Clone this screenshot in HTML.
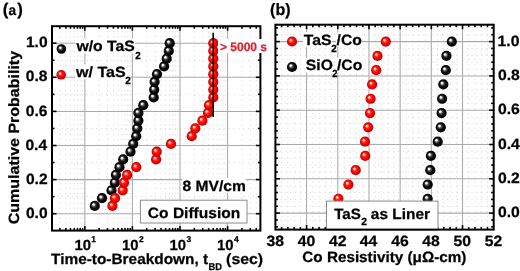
<!DOCTYPE html>
<html><head><meta charset="utf-8"><style>
html,body{margin:0;padding:0;background:#fff;}
body{width:520px;height:271px;overflow:hidden;}
svg{display:block;}
text{font-family:'Liberation Sans', Arial, sans-serif;stroke:currentColor;stroke-width:0.25px;paint-order:stroke;text-rendering:geometricPrecision;}
</style></head><body>
<svg width="520" height="271" viewBox="0 0 520 271">
<rect width="520" height="271" fill="#fff"/>
<defs>
<radialGradient id="gk" cx="0.5" cy="0.5" r="0.5" fx="0.34" fy="0.33"><stop offset="0" stop-color="#ffffff"/><stop offset="0.16" stop-color="#f2f2f2"/><stop offset="0.36" stop-color="#505050"/><stop offset="0.6" stop-color="#0c0c0c"/><stop offset="1" stop-color="#000"/></radialGradient>
<radialGradient id="gr" cx="0.5" cy="0.5" r="0.5" fx="0.34" fy="0.33"><stop offset="0" stop-color="#fff4f0"/><stop offset="0.16" stop-color="#ffc8bc"/><stop offset="0.38" stop-color="#ff2418"/><stop offset="0.72" stop-color="#f20000"/><stop offset="1" stop-color="#b80000"/></radialGradient>
<clipPath id="ca"><rect x="52.0" y="26.2" width="208.4" height="204.4"/></clipPath>
<clipPath id="cb"><rect x="275.4" y="24.7" width="218.3" height="204.9"/></clipPath>
</defs>
<g clip-path="url(#ca)">
<line x1="59.91" y1="26.2" x2="59.91" y2="230.6" stroke="#dedede" stroke-width="1" stroke-dasharray="1.3 3.6"/>
<line x1="65.86" y1="26.2" x2="65.86" y2="230.6" stroke="#dedede" stroke-width="1" stroke-dasharray="1.3 3.6"/>
<line x1="70.47" y1="26.2" x2="70.47" y2="230.6" stroke="#dedede" stroke-width="1" stroke-dasharray="1.3 3.6"/>
<line x1="74.24" y1="26.2" x2="74.24" y2="230.6" stroke="#dedede" stroke-width="1" stroke-dasharray="1.3 3.6"/>
<line x1="77.43" y1="26.2" x2="77.43" y2="230.6" stroke="#dedede" stroke-width="1" stroke-dasharray="1.3 3.6"/>
<line x1="80.19" y1="26.2" x2="80.19" y2="230.6" stroke="#dedede" stroke-width="1" stroke-dasharray="1.3 3.6"/>
<line x1="82.62" y1="26.2" x2="82.62" y2="230.6" stroke="#dedede" stroke-width="1" stroke-dasharray="1.3 3.6"/>
<line x1="99.13" y1="26.2" x2="99.13" y2="230.6" stroke="#dedede" stroke-width="1" stroke-dasharray="1.3 3.6"/>
<line x1="107.51" y1="26.2" x2="107.51" y2="230.6" stroke="#dedede" stroke-width="1" stroke-dasharray="1.3 3.6"/>
<line x1="113.46" y1="26.2" x2="113.46" y2="230.6" stroke="#dedede" stroke-width="1" stroke-dasharray="1.3 3.6"/>
<line x1="118.07" y1="26.2" x2="118.07" y2="230.6" stroke="#dedede" stroke-width="1" stroke-dasharray="1.3 3.6"/>
<line x1="121.84" y1="26.2" x2="121.84" y2="230.6" stroke="#dedede" stroke-width="1" stroke-dasharray="1.3 3.6"/>
<line x1="125.03" y1="26.2" x2="125.03" y2="230.6" stroke="#dedede" stroke-width="1" stroke-dasharray="1.3 3.6"/>
<line x1="127.79" y1="26.2" x2="127.79" y2="230.6" stroke="#dedede" stroke-width="1" stroke-dasharray="1.3 3.6"/>
<line x1="130.22" y1="26.2" x2="130.22" y2="230.6" stroke="#dedede" stroke-width="1" stroke-dasharray="1.3 3.6"/>
<line x1="146.73" y1="26.2" x2="146.73" y2="230.6" stroke="#dedede" stroke-width="1" stroke-dasharray="1.3 3.6"/>
<line x1="155.11" y1="26.2" x2="155.11" y2="230.6" stroke="#dedede" stroke-width="1" stroke-dasharray="1.3 3.6"/>
<line x1="161.06" y1="26.2" x2="161.06" y2="230.6" stroke="#dedede" stroke-width="1" stroke-dasharray="1.3 3.6"/>
<line x1="165.67" y1="26.2" x2="165.67" y2="230.6" stroke="#dedede" stroke-width="1" stroke-dasharray="1.3 3.6"/>
<line x1="169.44" y1="26.2" x2="169.44" y2="230.6" stroke="#dedede" stroke-width="1" stroke-dasharray="1.3 3.6"/>
<line x1="172.63" y1="26.2" x2="172.63" y2="230.6" stroke="#dedede" stroke-width="1" stroke-dasharray="1.3 3.6"/>
<line x1="175.39" y1="26.2" x2="175.39" y2="230.6" stroke="#dedede" stroke-width="1" stroke-dasharray="1.3 3.6"/>
<line x1="177.82" y1="26.2" x2="177.82" y2="230.6" stroke="#dedede" stroke-width="1" stroke-dasharray="1.3 3.6"/>
<line x1="194.33" y1="26.2" x2="194.33" y2="230.6" stroke="#dedede" stroke-width="1" stroke-dasharray="1.3 3.6"/>
<line x1="202.71" y1="26.2" x2="202.71" y2="230.6" stroke="#dedede" stroke-width="1" stroke-dasharray="1.3 3.6"/>
<line x1="208.66" y1="26.2" x2="208.66" y2="230.6" stroke="#dedede" stroke-width="1" stroke-dasharray="1.3 3.6"/>
<line x1="213.27" y1="26.2" x2="213.27" y2="230.6" stroke="#dedede" stroke-width="1" stroke-dasharray="1.3 3.6"/>
<line x1="217.04" y1="26.2" x2="217.04" y2="230.6" stroke="#dedede" stroke-width="1" stroke-dasharray="1.3 3.6"/>
<line x1="220.23" y1="26.2" x2="220.23" y2="230.6" stroke="#dedede" stroke-width="1" stroke-dasharray="1.3 3.6"/>
<line x1="222.99" y1="26.2" x2="222.99" y2="230.6" stroke="#dedede" stroke-width="1" stroke-dasharray="1.3 3.6"/>
<line x1="225.42" y1="26.2" x2="225.42" y2="230.6" stroke="#dedede" stroke-width="1" stroke-dasharray="1.3 3.6"/>
<line x1="241.93" y1="26.2" x2="241.93" y2="230.6" stroke="#dedede" stroke-width="1" stroke-dasharray="1.3 3.6"/>
<line x1="250.31" y1="26.2" x2="250.31" y2="230.6" stroke="#dedede" stroke-width="1" stroke-dasharray="1.3 3.6"/>
<line x1="256.26" y1="26.2" x2="256.26" y2="230.6" stroke="#dedede" stroke-width="1" stroke-dasharray="1.3 3.6"/>
<line x1="52.0" y1="196.65" x2="260.4" y2="196.65" stroke="#dedede" stroke-width="1" stroke-dasharray="1.3 3.6"/>
<line x1="52.0" y1="162.55" x2="260.4" y2="162.55" stroke="#dedede" stroke-width="1" stroke-dasharray="1.3 3.6"/>
<line x1="52.0" y1="128.45" x2="260.4" y2="128.45" stroke="#dedede" stroke-width="1" stroke-dasharray="1.3 3.6"/>
<line x1="52.0" y1="94.35" x2="260.4" y2="94.35" stroke="#dedede" stroke-width="1" stroke-dasharray="1.3 3.6"/>
<line x1="52.0" y1="60.25" x2="260.4" y2="60.25" stroke="#dedede" stroke-width="1" stroke-dasharray="1.3 3.6"/>
<line x1="84.80" y1="26.2" x2="84.80" y2="230.6" stroke="#aaaaaa" stroke-width="1.05"/>
<line x1="132.40" y1="26.2" x2="132.40" y2="230.6" stroke="#aaaaaa" stroke-width="1.05"/>
<line x1="180.00" y1="26.2" x2="180.00" y2="230.6" stroke="#aaaaaa" stroke-width="1.05"/>
<line x1="227.60" y1="26.2" x2="227.60" y2="230.6" stroke="#aaaaaa" stroke-width="1.05"/>
<line x1="52.0" y1="213.70" x2="260.4" y2="213.70" stroke="#aaaaaa" stroke-width="1.05"/>
<line x1="52.0" y1="179.60" x2="260.4" y2="179.60" stroke="#aaaaaa" stroke-width="1.05"/>
<line x1="52.0" y1="145.50" x2="260.4" y2="145.50" stroke="#aaaaaa" stroke-width="1.05"/>
<line x1="52.0" y1="111.40" x2="260.4" y2="111.40" stroke="#aaaaaa" stroke-width="1.05"/>
<line x1="52.0" y1="77.30" x2="260.4" y2="77.30" stroke="#aaaaaa" stroke-width="1.05"/>
<line x1="52.0" y1="43.20" x2="260.4" y2="43.20" stroke="#aaaaaa" stroke-width="1.05"/>
</g>
<g clip-path="url(#cb)">
<line x1="281.64" y1="24.7" x2="281.64" y2="229.6" stroke="#dedede" stroke-width="1" stroke-dasharray="1.3 3.6"/>
<line x1="287.87" y1="24.7" x2="287.87" y2="229.6" stroke="#dedede" stroke-width="1" stroke-dasharray="1.3 3.6"/>
<line x1="294.11" y1="24.7" x2="294.11" y2="229.6" stroke="#dedede" stroke-width="1" stroke-dasharray="1.3 3.6"/>
<line x1="300.35" y1="24.7" x2="300.35" y2="229.6" stroke="#dedede" stroke-width="1" stroke-dasharray="1.3 3.6"/>
<line x1="312.82" y1="24.7" x2="312.82" y2="229.6" stroke="#dedede" stroke-width="1" stroke-dasharray="1.3 3.6"/>
<line x1="319.06" y1="24.7" x2="319.06" y2="229.6" stroke="#dedede" stroke-width="1" stroke-dasharray="1.3 3.6"/>
<line x1="325.30" y1="24.7" x2="325.30" y2="229.6" stroke="#dedede" stroke-width="1" stroke-dasharray="1.3 3.6"/>
<line x1="331.53" y1="24.7" x2="331.53" y2="229.6" stroke="#dedede" stroke-width="1" stroke-dasharray="1.3 3.6"/>
<line x1="344.01" y1="24.7" x2="344.01" y2="229.6" stroke="#dedede" stroke-width="1" stroke-dasharray="1.3 3.6"/>
<line x1="350.25" y1="24.7" x2="350.25" y2="229.6" stroke="#dedede" stroke-width="1" stroke-dasharray="1.3 3.6"/>
<line x1="356.48" y1="24.7" x2="356.48" y2="229.6" stroke="#dedede" stroke-width="1" stroke-dasharray="1.3 3.6"/>
<line x1="362.72" y1="24.7" x2="362.72" y2="229.6" stroke="#dedede" stroke-width="1" stroke-dasharray="1.3 3.6"/>
<line x1="375.20" y1="24.7" x2="375.20" y2="229.6" stroke="#dedede" stroke-width="1" stroke-dasharray="1.3 3.6"/>
<line x1="381.43" y1="24.7" x2="381.43" y2="229.6" stroke="#dedede" stroke-width="1" stroke-dasharray="1.3 3.6"/>
<line x1="387.67" y1="24.7" x2="387.67" y2="229.6" stroke="#dedede" stroke-width="1" stroke-dasharray="1.3 3.6"/>
<line x1="393.91" y1="24.7" x2="393.91" y2="229.6" stroke="#dedede" stroke-width="1" stroke-dasharray="1.3 3.6"/>
<line x1="406.38" y1="24.7" x2="406.38" y2="229.6" stroke="#dedede" stroke-width="1" stroke-dasharray="1.3 3.6"/>
<line x1="412.62" y1="24.7" x2="412.62" y2="229.6" stroke="#dedede" stroke-width="1" stroke-dasharray="1.3 3.6"/>
<line x1="418.86" y1="24.7" x2="418.86" y2="229.6" stroke="#dedede" stroke-width="1" stroke-dasharray="1.3 3.6"/>
<line x1="425.09" y1="24.7" x2="425.09" y2="229.6" stroke="#dedede" stroke-width="1" stroke-dasharray="1.3 3.6"/>
<line x1="437.57" y1="24.7" x2="437.57" y2="229.6" stroke="#dedede" stroke-width="1" stroke-dasharray="1.3 3.6"/>
<line x1="443.80" y1="24.7" x2="443.80" y2="229.6" stroke="#dedede" stroke-width="1" stroke-dasharray="1.3 3.6"/>
<line x1="450.04" y1="24.7" x2="450.04" y2="229.6" stroke="#dedede" stroke-width="1" stroke-dasharray="1.3 3.6"/>
<line x1="456.28" y1="24.7" x2="456.28" y2="229.6" stroke="#dedede" stroke-width="1" stroke-dasharray="1.3 3.6"/>
<line x1="468.75" y1="24.7" x2="468.75" y2="229.6" stroke="#dedede" stroke-width="1" stroke-dasharray="1.3 3.6"/>
<line x1="474.99" y1="24.7" x2="474.99" y2="229.6" stroke="#dedede" stroke-width="1" stroke-dasharray="1.3 3.6"/>
<line x1="481.23" y1="24.7" x2="481.23" y2="229.6" stroke="#dedede" stroke-width="1" stroke-dasharray="1.3 3.6"/>
<line x1="487.46" y1="24.7" x2="487.46" y2="229.6" stroke="#dedede" stroke-width="1" stroke-dasharray="1.3 3.6"/>
<line x1="275.4" y1="226.82" x2="493.7" y2="226.82" stroke="#dedede" stroke-width="1" stroke-dasharray="1.3 3.6"/>
<line x1="275.4" y1="219.96" x2="493.7" y2="219.96" stroke="#dedede" stroke-width="1" stroke-dasharray="1.3 3.6"/>
<line x1="275.4" y1="206.24" x2="493.7" y2="206.24" stroke="#dedede" stroke-width="1" stroke-dasharray="1.3 3.6"/>
<line x1="275.4" y1="199.38" x2="493.7" y2="199.38" stroke="#dedede" stroke-width="1" stroke-dasharray="1.3 3.6"/>
<line x1="275.4" y1="192.52" x2="493.7" y2="192.52" stroke="#dedede" stroke-width="1" stroke-dasharray="1.3 3.6"/>
<line x1="275.4" y1="185.66" x2="493.7" y2="185.66" stroke="#dedede" stroke-width="1" stroke-dasharray="1.3 3.6"/>
<line x1="275.4" y1="171.94" x2="493.7" y2="171.94" stroke="#dedede" stroke-width="1" stroke-dasharray="1.3 3.6"/>
<line x1="275.4" y1="165.08" x2="493.7" y2="165.08" stroke="#dedede" stroke-width="1" stroke-dasharray="1.3 3.6"/>
<line x1="275.4" y1="158.22" x2="493.7" y2="158.22" stroke="#dedede" stroke-width="1" stroke-dasharray="1.3 3.6"/>
<line x1="275.4" y1="151.36" x2="493.7" y2="151.36" stroke="#dedede" stroke-width="1" stroke-dasharray="1.3 3.6"/>
<line x1="275.4" y1="137.64" x2="493.7" y2="137.64" stroke="#dedede" stroke-width="1" stroke-dasharray="1.3 3.6"/>
<line x1="275.4" y1="130.78" x2="493.7" y2="130.78" stroke="#dedede" stroke-width="1" stroke-dasharray="1.3 3.6"/>
<line x1="275.4" y1="123.92" x2="493.7" y2="123.92" stroke="#dedede" stroke-width="1" stroke-dasharray="1.3 3.6"/>
<line x1="275.4" y1="117.06" x2="493.7" y2="117.06" stroke="#dedede" stroke-width="1" stroke-dasharray="1.3 3.6"/>
<line x1="275.4" y1="103.34" x2="493.7" y2="103.34" stroke="#dedede" stroke-width="1" stroke-dasharray="1.3 3.6"/>
<line x1="275.4" y1="96.48" x2="493.7" y2="96.48" stroke="#dedede" stroke-width="1" stroke-dasharray="1.3 3.6"/>
<line x1="275.4" y1="89.62" x2="493.7" y2="89.62" stroke="#dedede" stroke-width="1" stroke-dasharray="1.3 3.6"/>
<line x1="275.4" y1="82.76" x2="493.7" y2="82.76" stroke="#dedede" stroke-width="1" stroke-dasharray="1.3 3.6"/>
<line x1="275.4" y1="69.04" x2="493.7" y2="69.04" stroke="#dedede" stroke-width="1" stroke-dasharray="1.3 3.6"/>
<line x1="275.4" y1="62.18" x2="493.7" y2="62.18" stroke="#dedede" stroke-width="1" stroke-dasharray="1.3 3.6"/>
<line x1="275.4" y1="55.32" x2="493.7" y2="55.32" stroke="#dedede" stroke-width="1" stroke-dasharray="1.3 3.6"/>
<line x1="275.4" y1="48.46" x2="493.7" y2="48.46" stroke="#dedede" stroke-width="1" stroke-dasharray="1.3 3.6"/>
<line x1="275.4" y1="34.74" x2="493.7" y2="34.74" stroke="#dedede" stroke-width="1" stroke-dasharray="1.3 3.6"/>
<line x1="275.4" y1="27.88" x2="493.7" y2="27.88" stroke="#dedede" stroke-width="1" stroke-dasharray="1.3 3.6"/>
<line x1="306.59" y1="24.7" x2="306.59" y2="229.6" stroke="#aaaaaa" stroke-width="1.05"/>
<line x1="337.77" y1="24.7" x2="337.77" y2="229.6" stroke="#aaaaaa" stroke-width="1.05"/>
<line x1="368.96" y1="24.7" x2="368.96" y2="229.6" stroke="#aaaaaa" stroke-width="1.05"/>
<line x1="400.14" y1="24.7" x2="400.14" y2="229.6" stroke="#aaaaaa" stroke-width="1.05"/>
<line x1="431.33" y1="24.7" x2="431.33" y2="229.6" stroke="#aaaaaa" stroke-width="1.05"/>
<line x1="462.52" y1="24.7" x2="462.52" y2="229.6" stroke="#aaaaaa" stroke-width="1.05"/>
<line x1="275.4" y1="213.10" x2="493.7" y2="213.10" stroke="#aaaaaa" stroke-width="1.05"/>
<line x1="275.4" y1="178.80" x2="493.7" y2="178.80" stroke="#aaaaaa" stroke-width="1.05"/>
<line x1="275.4" y1="144.50" x2="493.7" y2="144.50" stroke="#aaaaaa" stroke-width="1.05"/>
<line x1="275.4" y1="110.20" x2="493.7" y2="110.20" stroke="#aaaaaa" stroke-width="1.05"/>
<line x1="275.4" y1="75.90" x2="493.7" y2="75.90" stroke="#aaaaaa" stroke-width="1.05"/>
<line x1="275.4" y1="41.60" x2="493.7" y2="41.60" stroke="#aaaaaa" stroke-width="1.05"/>
</g>
<line x1="52.00" y1="213.70" x2="56.50" y2="213.70" stroke="#000" stroke-width="1.6"/>
<line x1="260.40" y1="213.70" x2="255.90" y2="213.70" stroke="#000" stroke-width="1.6"/>
<line x1="52.00" y1="196.65" x2="54.50" y2="196.65" stroke="#000" stroke-width="1.6"/>
<line x1="260.40" y1="196.65" x2="257.90" y2="196.65" stroke="#000" stroke-width="1.6"/>
<line x1="52.00" y1="179.60" x2="56.50" y2="179.60" stroke="#000" stroke-width="1.6"/>
<line x1="260.40" y1="179.60" x2="255.90" y2="179.60" stroke="#000" stroke-width="1.6"/>
<line x1="52.00" y1="162.55" x2="54.50" y2="162.55" stroke="#000" stroke-width="1.6"/>
<line x1="260.40" y1="162.55" x2="257.90" y2="162.55" stroke="#000" stroke-width="1.6"/>
<line x1="52.00" y1="145.50" x2="56.50" y2="145.50" stroke="#000" stroke-width="1.6"/>
<line x1="260.40" y1="145.50" x2="255.90" y2="145.50" stroke="#000" stroke-width="1.6"/>
<line x1="52.00" y1="128.45" x2="54.50" y2="128.45" stroke="#000" stroke-width="1.6"/>
<line x1="260.40" y1="128.45" x2="257.90" y2="128.45" stroke="#000" stroke-width="1.6"/>
<line x1="52.00" y1="111.40" x2="56.50" y2="111.40" stroke="#000" stroke-width="1.6"/>
<line x1="260.40" y1="111.40" x2="255.90" y2="111.40" stroke="#000" stroke-width="1.6"/>
<line x1="52.00" y1="94.35" x2="54.50" y2="94.35" stroke="#000" stroke-width="1.6"/>
<line x1="260.40" y1="94.35" x2="257.90" y2="94.35" stroke="#000" stroke-width="1.6"/>
<line x1="52.00" y1="77.30" x2="56.50" y2="77.30" stroke="#000" stroke-width="1.6"/>
<line x1="260.40" y1="77.30" x2="255.90" y2="77.30" stroke="#000" stroke-width="1.6"/>
<line x1="52.00" y1="60.25" x2="54.50" y2="60.25" stroke="#000" stroke-width="1.6"/>
<line x1="260.40" y1="60.25" x2="257.90" y2="60.25" stroke="#000" stroke-width="1.6"/>
<line x1="52.00" y1="43.20" x2="56.50" y2="43.20" stroke="#000" stroke-width="1.6"/>
<line x1="260.40" y1="43.20" x2="255.90" y2="43.20" stroke="#000" stroke-width="1.6"/>
<line x1="59.91" y1="230.60" x2="59.91" y2="228.10" stroke="#000" stroke-width="1.6"/>
<line x1="59.91" y1="26.20" x2="59.91" y2="28.70" stroke="#000" stroke-width="1.6"/>
<line x1="65.86" y1="230.60" x2="65.86" y2="228.10" stroke="#000" stroke-width="1.6"/>
<line x1="65.86" y1="26.20" x2="65.86" y2="28.70" stroke="#000" stroke-width="1.6"/>
<line x1="70.47" y1="230.60" x2="70.47" y2="228.10" stroke="#000" stroke-width="1.6"/>
<line x1="70.47" y1="26.20" x2="70.47" y2="28.70" stroke="#000" stroke-width="1.6"/>
<line x1="74.24" y1="230.60" x2="74.24" y2="228.10" stroke="#000" stroke-width="1.6"/>
<line x1="74.24" y1="26.20" x2="74.24" y2="28.70" stroke="#000" stroke-width="1.6"/>
<line x1="77.43" y1="230.60" x2="77.43" y2="228.10" stroke="#000" stroke-width="1.6"/>
<line x1="77.43" y1="26.20" x2="77.43" y2="28.70" stroke="#000" stroke-width="1.6"/>
<line x1="80.19" y1="230.60" x2="80.19" y2="228.10" stroke="#000" stroke-width="1.6"/>
<line x1="80.19" y1="26.20" x2="80.19" y2="28.70" stroke="#000" stroke-width="1.6"/>
<line x1="82.62" y1="230.60" x2="82.62" y2="228.10" stroke="#000" stroke-width="1.6"/>
<line x1="82.62" y1="26.20" x2="82.62" y2="28.70" stroke="#000" stroke-width="1.6"/>
<line x1="84.80" y1="230.60" x2="84.80" y2="226.10" stroke="#000" stroke-width="1.6"/>
<line x1="84.80" y1="26.20" x2="84.80" y2="30.70" stroke="#000" stroke-width="1.6"/>
<line x1="99.13" y1="230.60" x2="99.13" y2="228.10" stroke="#000" stroke-width="1.6"/>
<line x1="99.13" y1="26.20" x2="99.13" y2="28.70" stroke="#000" stroke-width="1.6"/>
<line x1="107.51" y1="230.60" x2="107.51" y2="228.10" stroke="#000" stroke-width="1.6"/>
<line x1="107.51" y1="26.20" x2="107.51" y2="28.70" stroke="#000" stroke-width="1.6"/>
<line x1="113.46" y1="230.60" x2="113.46" y2="228.10" stroke="#000" stroke-width="1.6"/>
<line x1="113.46" y1="26.20" x2="113.46" y2="28.70" stroke="#000" stroke-width="1.6"/>
<line x1="118.07" y1="230.60" x2="118.07" y2="228.10" stroke="#000" stroke-width="1.6"/>
<line x1="118.07" y1="26.20" x2="118.07" y2="28.70" stroke="#000" stroke-width="1.6"/>
<line x1="121.84" y1="230.60" x2="121.84" y2="228.10" stroke="#000" stroke-width="1.6"/>
<line x1="121.84" y1="26.20" x2="121.84" y2="28.70" stroke="#000" stroke-width="1.6"/>
<line x1="125.03" y1="230.60" x2="125.03" y2="228.10" stroke="#000" stroke-width="1.6"/>
<line x1="125.03" y1="26.20" x2="125.03" y2="28.70" stroke="#000" stroke-width="1.6"/>
<line x1="127.79" y1="230.60" x2="127.79" y2="228.10" stroke="#000" stroke-width="1.6"/>
<line x1="127.79" y1="26.20" x2="127.79" y2="28.70" stroke="#000" stroke-width="1.6"/>
<line x1="130.22" y1="230.60" x2="130.22" y2="228.10" stroke="#000" stroke-width="1.6"/>
<line x1="130.22" y1="26.20" x2="130.22" y2="28.70" stroke="#000" stroke-width="1.6"/>
<line x1="132.40" y1="230.60" x2="132.40" y2="226.10" stroke="#000" stroke-width="1.6"/>
<line x1="132.40" y1="26.20" x2="132.40" y2="30.70" stroke="#000" stroke-width="1.6"/>
<line x1="146.73" y1="230.60" x2="146.73" y2="228.10" stroke="#000" stroke-width="1.6"/>
<line x1="146.73" y1="26.20" x2="146.73" y2="28.70" stroke="#000" stroke-width="1.6"/>
<line x1="155.11" y1="230.60" x2="155.11" y2="228.10" stroke="#000" stroke-width="1.6"/>
<line x1="155.11" y1="26.20" x2="155.11" y2="28.70" stroke="#000" stroke-width="1.6"/>
<line x1="161.06" y1="230.60" x2="161.06" y2="228.10" stroke="#000" stroke-width="1.6"/>
<line x1="161.06" y1="26.20" x2="161.06" y2="28.70" stroke="#000" stroke-width="1.6"/>
<line x1="165.67" y1="230.60" x2="165.67" y2="228.10" stroke="#000" stroke-width="1.6"/>
<line x1="165.67" y1="26.20" x2="165.67" y2="28.70" stroke="#000" stroke-width="1.6"/>
<line x1="169.44" y1="230.60" x2="169.44" y2="228.10" stroke="#000" stroke-width="1.6"/>
<line x1="169.44" y1="26.20" x2="169.44" y2="28.70" stroke="#000" stroke-width="1.6"/>
<line x1="172.63" y1="230.60" x2="172.63" y2="228.10" stroke="#000" stroke-width="1.6"/>
<line x1="172.63" y1="26.20" x2="172.63" y2="28.70" stroke="#000" stroke-width="1.6"/>
<line x1="175.39" y1="230.60" x2="175.39" y2="228.10" stroke="#000" stroke-width="1.6"/>
<line x1="175.39" y1="26.20" x2="175.39" y2="28.70" stroke="#000" stroke-width="1.6"/>
<line x1="177.82" y1="230.60" x2="177.82" y2="228.10" stroke="#000" stroke-width="1.6"/>
<line x1="177.82" y1="26.20" x2="177.82" y2="28.70" stroke="#000" stroke-width="1.6"/>
<line x1="180.00" y1="230.60" x2="180.00" y2="226.10" stroke="#000" stroke-width="1.6"/>
<line x1="180.00" y1="26.20" x2="180.00" y2="30.70" stroke="#000" stroke-width="1.6"/>
<line x1="194.33" y1="230.60" x2="194.33" y2="228.10" stroke="#000" stroke-width="1.6"/>
<line x1="194.33" y1="26.20" x2="194.33" y2="28.70" stroke="#000" stroke-width="1.6"/>
<line x1="202.71" y1="230.60" x2="202.71" y2="228.10" stroke="#000" stroke-width="1.6"/>
<line x1="202.71" y1="26.20" x2="202.71" y2="28.70" stroke="#000" stroke-width="1.6"/>
<line x1="208.66" y1="230.60" x2="208.66" y2="228.10" stroke="#000" stroke-width="1.6"/>
<line x1="208.66" y1="26.20" x2="208.66" y2="28.70" stroke="#000" stroke-width="1.6"/>
<line x1="213.27" y1="230.60" x2="213.27" y2="228.10" stroke="#000" stroke-width="1.6"/>
<line x1="213.27" y1="26.20" x2="213.27" y2="28.70" stroke="#000" stroke-width="1.6"/>
<line x1="217.04" y1="230.60" x2="217.04" y2="228.10" stroke="#000" stroke-width="1.6"/>
<line x1="217.04" y1="26.20" x2="217.04" y2="28.70" stroke="#000" stroke-width="1.6"/>
<line x1="220.23" y1="230.60" x2="220.23" y2="228.10" stroke="#000" stroke-width="1.6"/>
<line x1="220.23" y1="26.20" x2="220.23" y2="28.70" stroke="#000" stroke-width="1.6"/>
<line x1="222.99" y1="230.60" x2="222.99" y2="228.10" stroke="#000" stroke-width="1.6"/>
<line x1="222.99" y1="26.20" x2="222.99" y2="28.70" stroke="#000" stroke-width="1.6"/>
<line x1="225.42" y1="230.60" x2="225.42" y2="228.10" stroke="#000" stroke-width="1.6"/>
<line x1="225.42" y1="26.20" x2="225.42" y2="28.70" stroke="#000" stroke-width="1.6"/>
<line x1="227.60" y1="230.60" x2="227.60" y2="226.10" stroke="#000" stroke-width="1.6"/>
<line x1="227.60" y1="26.20" x2="227.60" y2="30.70" stroke="#000" stroke-width="1.6"/>
<line x1="241.93" y1="230.60" x2="241.93" y2="228.10" stroke="#000" stroke-width="1.6"/>
<line x1="241.93" y1="26.20" x2="241.93" y2="28.70" stroke="#000" stroke-width="1.6"/>
<line x1="250.31" y1="230.60" x2="250.31" y2="228.10" stroke="#000" stroke-width="1.6"/>
<line x1="250.31" y1="26.20" x2="250.31" y2="28.70" stroke="#000" stroke-width="1.6"/>
<line x1="256.26" y1="230.60" x2="256.26" y2="228.10" stroke="#000" stroke-width="1.6"/>
<line x1="256.26" y1="26.20" x2="256.26" y2="28.70" stroke="#000" stroke-width="1.6"/>
<line x1="275.40" y1="226.82" x2="277.90" y2="226.82" stroke="#000" stroke-width="1.6"/>
<line x1="493.70" y1="226.82" x2="491.20" y2="226.82" stroke="#000" stroke-width="1.6"/>
<line x1="275.40" y1="219.96" x2="277.90" y2="219.96" stroke="#000" stroke-width="1.6"/>
<line x1="493.70" y1="219.96" x2="491.20" y2="219.96" stroke="#000" stroke-width="1.6"/>
<line x1="275.40" y1="213.10" x2="279.90" y2="213.10" stroke="#000" stroke-width="1.6"/>
<line x1="493.70" y1="213.10" x2="489.20" y2="213.10" stroke="#000" stroke-width="1.6"/>
<line x1="275.40" y1="206.24" x2="277.90" y2="206.24" stroke="#000" stroke-width="1.6"/>
<line x1="493.70" y1="206.24" x2="491.20" y2="206.24" stroke="#000" stroke-width="1.6"/>
<line x1="275.40" y1="199.38" x2="277.90" y2="199.38" stroke="#000" stroke-width="1.6"/>
<line x1="493.70" y1="199.38" x2="491.20" y2="199.38" stroke="#000" stroke-width="1.6"/>
<line x1="275.40" y1="192.52" x2="277.90" y2="192.52" stroke="#000" stroke-width="1.6"/>
<line x1="493.70" y1="192.52" x2="491.20" y2="192.52" stroke="#000" stroke-width="1.6"/>
<line x1="275.40" y1="185.66" x2="277.90" y2="185.66" stroke="#000" stroke-width="1.6"/>
<line x1="493.70" y1="185.66" x2="491.20" y2="185.66" stroke="#000" stroke-width="1.6"/>
<line x1="275.40" y1="178.80" x2="279.90" y2="178.80" stroke="#000" stroke-width="1.6"/>
<line x1="493.70" y1="178.80" x2="489.20" y2="178.80" stroke="#000" stroke-width="1.6"/>
<line x1="275.40" y1="171.94" x2="277.90" y2="171.94" stroke="#000" stroke-width="1.6"/>
<line x1="493.70" y1="171.94" x2="491.20" y2="171.94" stroke="#000" stroke-width="1.6"/>
<line x1="275.40" y1="165.08" x2="277.90" y2="165.08" stroke="#000" stroke-width="1.6"/>
<line x1="493.70" y1="165.08" x2="491.20" y2="165.08" stroke="#000" stroke-width="1.6"/>
<line x1="275.40" y1="158.22" x2="277.90" y2="158.22" stroke="#000" stroke-width="1.6"/>
<line x1="493.70" y1="158.22" x2="491.20" y2="158.22" stroke="#000" stroke-width="1.6"/>
<line x1="275.40" y1="151.36" x2="277.90" y2="151.36" stroke="#000" stroke-width="1.6"/>
<line x1="493.70" y1="151.36" x2="491.20" y2="151.36" stroke="#000" stroke-width="1.6"/>
<line x1="275.40" y1="144.50" x2="279.90" y2="144.50" stroke="#000" stroke-width="1.6"/>
<line x1="493.70" y1="144.50" x2="489.20" y2="144.50" stroke="#000" stroke-width="1.6"/>
<line x1="275.40" y1="137.64" x2="277.90" y2="137.64" stroke="#000" stroke-width="1.6"/>
<line x1="493.70" y1="137.64" x2="491.20" y2="137.64" stroke="#000" stroke-width="1.6"/>
<line x1="275.40" y1="130.78" x2="277.90" y2="130.78" stroke="#000" stroke-width="1.6"/>
<line x1="493.70" y1="130.78" x2="491.20" y2="130.78" stroke="#000" stroke-width="1.6"/>
<line x1="275.40" y1="123.92" x2="277.90" y2="123.92" stroke="#000" stroke-width="1.6"/>
<line x1="493.70" y1="123.92" x2="491.20" y2="123.92" stroke="#000" stroke-width="1.6"/>
<line x1="275.40" y1="117.06" x2="277.90" y2="117.06" stroke="#000" stroke-width="1.6"/>
<line x1="493.70" y1="117.06" x2="491.20" y2="117.06" stroke="#000" stroke-width="1.6"/>
<line x1="275.40" y1="110.20" x2="279.90" y2="110.20" stroke="#000" stroke-width="1.6"/>
<line x1="493.70" y1="110.20" x2="489.20" y2="110.20" stroke="#000" stroke-width="1.6"/>
<line x1="275.40" y1="103.34" x2="277.90" y2="103.34" stroke="#000" stroke-width="1.6"/>
<line x1="493.70" y1="103.34" x2="491.20" y2="103.34" stroke="#000" stroke-width="1.6"/>
<line x1="275.40" y1="96.48" x2="277.90" y2="96.48" stroke="#000" stroke-width="1.6"/>
<line x1="493.70" y1="96.48" x2="491.20" y2="96.48" stroke="#000" stroke-width="1.6"/>
<line x1="275.40" y1="89.62" x2="277.90" y2="89.62" stroke="#000" stroke-width="1.6"/>
<line x1="493.70" y1="89.62" x2="491.20" y2="89.62" stroke="#000" stroke-width="1.6"/>
<line x1="275.40" y1="82.76" x2="277.90" y2="82.76" stroke="#000" stroke-width="1.6"/>
<line x1="493.70" y1="82.76" x2="491.20" y2="82.76" stroke="#000" stroke-width="1.6"/>
<line x1="275.40" y1="75.90" x2="279.90" y2="75.90" stroke="#000" stroke-width="1.6"/>
<line x1="493.70" y1="75.90" x2="489.20" y2="75.90" stroke="#000" stroke-width="1.6"/>
<line x1="275.40" y1="69.04" x2="277.90" y2="69.04" stroke="#000" stroke-width="1.6"/>
<line x1="493.70" y1="69.04" x2="491.20" y2="69.04" stroke="#000" stroke-width="1.6"/>
<line x1="275.40" y1="62.18" x2="277.90" y2="62.18" stroke="#000" stroke-width="1.6"/>
<line x1="493.70" y1="62.18" x2="491.20" y2="62.18" stroke="#000" stroke-width="1.6"/>
<line x1="275.40" y1="55.32" x2="277.90" y2="55.32" stroke="#000" stroke-width="1.6"/>
<line x1="493.70" y1="55.32" x2="491.20" y2="55.32" stroke="#000" stroke-width="1.6"/>
<line x1="275.40" y1="48.46" x2="277.90" y2="48.46" stroke="#000" stroke-width="1.6"/>
<line x1="493.70" y1="48.46" x2="491.20" y2="48.46" stroke="#000" stroke-width="1.6"/>
<line x1="275.40" y1="41.60" x2="279.90" y2="41.60" stroke="#000" stroke-width="1.6"/>
<line x1="493.70" y1="41.60" x2="489.20" y2="41.60" stroke="#000" stroke-width="1.6"/>
<line x1="275.40" y1="34.74" x2="277.90" y2="34.74" stroke="#000" stroke-width="1.6"/>
<line x1="493.70" y1="34.74" x2="491.20" y2="34.74" stroke="#000" stroke-width="1.6"/>
<line x1="275.40" y1="27.88" x2="277.90" y2="27.88" stroke="#000" stroke-width="1.6"/>
<line x1="493.70" y1="27.88" x2="491.20" y2="27.88" stroke="#000" stroke-width="1.6"/>
<line x1="281.64" y1="229.60" x2="281.64" y2="227.10" stroke="#000" stroke-width="1.6"/>
<line x1="281.64" y1="24.70" x2="281.64" y2="27.20" stroke="#000" stroke-width="1.6"/>
<line x1="287.87" y1="229.60" x2="287.87" y2="227.10" stroke="#000" stroke-width="1.6"/>
<line x1="287.87" y1="24.70" x2="287.87" y2="27.20" stroke="#000" stroke-width="1.6"/>
<line x1="294.11" y1="229.60" x2="294.11" y2="227.10" stroke="#000" stroke-width="1.6"/>
<line x1="294.11" y1="24.70" x2="294.11" y2="27.20" stroke="#000" stroke-width="1.6"/>
<line x1="300.35" y1="229.60" x2="300.35" y2="227.10" stroke="#000" stroke-width="1.6"/>
<line x1="300.35" y1="24.70" x2="300.35" y2="27.20" stroke="#000" stroke-width="1.6"/>
<line x1="306.59" y1="229.60" x2="306.59" y2="225.10" stroke="#000" stroke-width="1.6"/>
<line x1="306.59" y1="24.70" x2="306.59" y2="29.20" stroke="#000" stroke-width="1.6"/>
<line x1="312.82" y1="229.60" x2="312.82" y2="227.10" stroke="#000" stroke-width="1.6"/>
<line x1="312.82" y1="24.70" x2="312.82" y2="27.20" stroke="#000" stroke-width="1.6"/>
<line x1="319.06" y1="229.60" x2="319.06" y2="227.10" stroke="#000" stroke-width="1.6"/>
<line x1="319.06" y1="24.70" x2="319.06" y2="27.20" stroke="#000" stroke-width="1.6"/>
<line x1="325.30" y1="229.60" x2="325.30" y2="227.10" stroke="#000" stroke-width="1.6"/>
<line x1="325.30" y1="24.70" x2="325.30" y2="27.20" stroke="#000" stroke-width="1.6"/>
<line x1="331.53" y1="229.60" x2="331.53" y2="227.10" stroke="#000" stroke-width="1.6"/>
<line x1="331.53" y1="24.70" x2="331.53" y2="27.20" stroke="#000" stroke-width="1.6"/>
<line x1="337.77" y1="229.60" x2="337.77" y2="225.10" stroke="#000" stroke-width="1.6"/>
<line x1="337.77" y1="24.70" x2="337.77" y2="29.20" stroke="#000" stroke-width="1.6"/>
<line x1="344.01" y1="229.60" x2="344.01" y2="227.10" stroke="#000" stroke-width="1.6"/>
<line x1="344.01" y1="24.70" x2="344.01" y2="27.20" stroke="#000" stroke-width="1.6"/>
<line x1="350.25" y1="229.60" x2="350.25" y2="227.10" stroke="#000" stroke-width="1.6"/>
<line x1="350.25" y1="24.70" x2="350.25" y2="27.20" stroke="#000" stroke-width="1.6"/>
<line x1="356.48" y1="229.60" x2="356.48" y2="227.10" stroke="#000" stroke-width="1.6"/>
<line x1="356.48" y1="24.70" x2="356.48" y2="27.20" stroke="#000" stroke-width="1.6"/>
<line x1="362.72" y1="229.60" x2="362.72" y2="227.10" stroke="#000" stroke-width="1.6"/>
<line x1="362.72" y1="24.70" x2="362.72" y2="27.20" stroke="#000" stroke-width="1.6"/>
<line x1="368.96" y1="229.60" x2="368.96" y2="225.10" stroke="#000" stroke-width="1.6"/>
<line x1="368.96" y1="24.70" x2="368.96" y2="29.20" stroke="#000" stroke-width="1.6"/>
<line x1="375.20" y1="229.60" x2="375.20" y2="227.10" stroke="#000" stroke-width="1.6"/>
<line x1="375.20" y1="24.70" x2="375.20" y2="27.20" stroke="#000" stroke-width="1.6"/>
<line x1="381.43" y1="229.60" x2="381.43" y2="227.10" stroke="#000" stroke-width="1.6"/>
<line x1="381.43" y1="24.70" x2="381.43" y2="27.20" stroke="#000" stroke-width="1.6"/>
<line x1="387.67" y1="229.60" x2="387.67" y2="227.10" stroke="#000" stroke-width="1.6"/>
<line x1="387.67" y1="24.70" x2="387.67" y2="27.20" stroke="#000" stroke-width="1.6"/>
<line x1="393.91" y1="229.60" x2="393.91" y2="227.10" stroke="#000" stroke-width="1.6"/>
<line x1="393.91" y1="24.70" x2="393.91" y2="27.20" stroke="#000" stroke-width="1.6"/>
<line x1="400.14" y1="229.60" x2="400.14" y2="225.10" stroke="#000" stroke-width="1.6"/>
<line x1="400.14" y1="24.70" x2="400.14" y2="29.20" stroke="#000" stroke-width="1.6"/>
<line x1="406.38" y1="229.60" x2="406.38" y2="227.10" stroke="#000" stroke-width="1.6"/>
<line x1="406.38" y1="24.70" x2="406.38" y2="27.20" stroke="#000" stroke-width="1.6"/>
<line x1="412.62" y1="229.60" x2="412.62" y2="227.10" stroke="#000" stroke-width="1.6"/>
<line x1="412.62" y1="24.70" x2="412.62" y2="27.20" stroke="#000" stroke-width="1.6"/>
<line x1="418.86" y1="229.60" x2="418.86" y2="227.10" stroke="#000" stroke-width="1.6"/>
<line x1="418.86" y1="24.70" x2="418.86" y2="27.20" stroke="#000" stroke-width="1.6"/>
<line x1="425.09" y1="229.60" x2="425.09" y2="227.10" stroke="#000" stroke-width="1.6"/>
<line x1="425.09" y1="24.70" x2="425.09" y2="27.20" stroke="#000" stroke-width="1.6"/>
<line x1="431.33" y1="229.60" x2="431.33" y2="225.10" stroke="#000" stroke-width="1.6"/>
<line x1="431.33" y1="24.70" x2="431.33" y2="29.20" stroke="#000" stroke-width="1.6"/>
<line x1="437.57" y1="229.60" x2="437.57" y2="227.10" stroke="#000" stroke-width="1.6"/>
<line x1="437.57" y1="24.70" x2="437.57" y2="27.20" stroke="#000" stroke-width="1.6"/>
<line x1="443.80" y1="229.60" x2="443.80" y2="227.10" stroke="#000" stroke-width="1.6"/>
<line x1="443.80" y1="24.70" x2="443.80" y2="27.20" stroke="#000" stroke-width="1.6"/>
<line x1="450.04" y1="229.60" x2="450.04" y2="227.10" stroke="#000" stroke-width="1.6"/>
<line x1="450.04" y1="24.70" x2="450.04" y2="27.20" stroke="#000" stroke-width="1.6"/>
<line x1="456.28" y1="229.60" x2="456.28" y2="227.10" stroke="#000" stroke-width="1.6"/>
<line x1="456.28" y1="24.70" x2="456.28" y2="27.20" stroke="#000" stroke-width="1.6"/>
<line x1="462.52" y1="229.60" x2="462.52" y2="225.10" stroke="#000" stroke-width="1.6"/>
<line x1="462.52" y1="24.70" x2="462.52" y2="29.20" stroke="#000" stroke-width="1.6"/>
<line x1="468.75" y1="229.60" x2="468.75" y2="227.10" stroke="#000" stroke-width="1.6"/>
<line x1="468.75" y1="24.70" x2="468.75" y2="27.20" stroke="#000" stroke-width="1.6"/>
<line x1="474.99" y1="229.60" x2="474.99" y2="227.10" stroke="#000" stroke-width="1.6"/>
<line x1="474.99" y1="24.70" x2="474.99" y2="27.20" stroke="#000" stroke-width="1.6"/>
<line x1="481.23" y1="229.60" x2="481.23" y2="227.10" stroke="#000" stroke-width="1.6"/>
<line x1="481.23" y1="24.70" x2="481.23" y2="27.20" stroke="#000" stroke-width="1.6"/>
<line x1="487.46" y1="229.60" x2="487.46" y2="227.10" stroke="#000" stroke-width="1.6"/>
<line x1="487.46" y1="24.70" x2="487.46" y2="27.20" stroke="#000" stroke-width="1.6"/>
<g clip-path="url(#ca)">
<circle cx="94.80" cy="205.95" r="5.10" fill="url(#gk)"/>
<circle cx="102.00" cy="198.20" r="5.10" fill="url(#gk)"/>
<circle cx="111.50" cy="190.45" r="5.10" fill="url(#gk)"/>
<circle cx="114.90" cy="182.70" r="5.10" fill="url(#gk)"/>
<circle cx="115.90" cy="174.95" r="5.10" fill="url(#gk)"/>
<circle cx="119.50" cy="167.20" r="5.10" fill="url(#gk)"/>
<circle cx="123.20" cy="159.45" r="5.10" fill="url(#gk)"/>
<circle cx="130.50" cy="151.70" r="5.10" fill="url(#gk)"/>
<circle cx="133.20" cy="143.95" r="5.10" fill="url(#gk)"/>
<circle cx="136.20" cy="136.20" r="5.10" fill="url(#gk)"/>
<circle cx="137.30" cy="128.45" r="5.10" fill="url(#gk)"/>
<circle cx="138.40" cy="120.70" r="5.10" fill="url(#gk)"/>
<circle cx="138.40" cy="112.95" r="5.10" fill="url(#gk)"/>
<circle cx="143.30" cy="105.20" r="5.10" fill="url(#gk)"/>
<circle cx="153.70" cy="97.45" r="5.10" fill="url(#gk)"/>
<circle cx="154.20" cy="89.70" r="5.10" fill="url(#gk)"/>
<circle cx="154.60" cy="81.95" r="5.10" fill="url(#gk)"/>
<circle cx="157.00" cy="74.20" r="5.10" fill="url(#gk)"/>
<circle cx="164.10" cy="66.45" r="5.10" fill="url(#gk)"/>
<circle cx="166.70" cy="58.70" r="5.10" fill="url(#gk)"/>
<circle cx="168.80" cy="50.95" r="5.10" fill="url(#gk)"/>
<circle cx="169.70" cy="43.20" r="5.10" fill="url(#gk)"/>
<circle cx="112.40" cy="205.95" r="5.10" fill="url(#gr)"/>
<circle cx="115.00" cy="198.20" r="5.10" fill="url(#gr)"/>
<circle cx="122.70" cy="190.45" r="5.10" fill="url(#gr)"/>
<circle cx="124.00" cy="182.70" r="5.10" fill="url(#gr)"/>
<circle cx="127.10" cy="174.95" r="5.10" fill="url(#gr)"/>
<circle cx="136.30" cy="167.20" r="5.10" fill="url(#gr)"/>
<circle cx="156.10" cy="159.45" r="5.10" fill="url(#gr)"/>
<circle cx="156.70" cy="151.70" r="5.10" fill="url(#gr)"/>
<circle cx="171.00" cy="143.95" r="5.10" fill="url(#gr)"/>
<circle cx="191.70" cy="136.20" r="5.10" fill="url(#gr)"/>
<circle cx="195.30" cy="128.45" r="5.10" fill="url(#gr)"/>
<circle cx="202.40" cy="120.70" r="5.10" fill="url(#gr)"/>
<circle cx="208.00" cy="112.95" r="5.10" fill="url(#gr)"/>
<circle cx="209.00" cy="105.20" r="5.10" fill="url(#gr)"/>
<circle cx="213.30" cy="97.45" r="5.10" fill="url(#gr)"/>
<circle cx="213.30" cy="89.70" r="5.10" fill="url(#gr)"/>
<circle cx="213.30" cy="81.95" r="5.10" fill="url(#gr)"/>
<circle cx="213.30" cy="74.20" r="5.10" fill="url(#gr)"/>
<circle cx="213.30" cy="66.45" r="5.10" fill="url(#gr)"/>
<circle cx="213.30" cy="58.70" r="5.10" fill="url(#gr)"/>
<circle cx="213.30" cy="50.95" r="5.10" fill="url(#gr)"/>
<circle cx="213.30" cy="43.20" r="5.10" fill="url(#gr)"/>
</g>
<line x1="213.2" y1="32.8" x2="213.2" y2="117" stroke="#000" stroke-width="1.6"/>
<g clip-path="url(#cb)">
<circle cx="427.70" cy="198.81" r="5.10" fill="url(#gk)"/>
<circle cx="427.70" cy="184.52" r="5.10" fill="url(#gk)"/>
<circle cx="430.30" cy="170.22" r="5.10" fill="url(#gk)"/>
<circle cx="430.90" cy="155.93" r="5.10" fill="url(#gk)"/>
<circle cx="437.70" cy="141.64" r="5.10" fill="url(#gk)"/>
<circle cx="440.80" cy="127.35" r="5.10" fill="url(#gk)"/>
<circle cx="441.60" cy="113.06" r="5.10" fill="url(#gk)"/>
<circle cx="442.10" cy="98.77" r="5.10" fill="url(#gk)"/>
<circle cx="443.30" cy="84.47" r="5.10" fill="url(#gk)"/>
<circle cx="445.80" cy="70.18" r="5.10" fill="url(#gk)"/>
<circle cx="446.40" cy="55.89" r="5.10" fill="url(#gk)"/>
<circle cx="451.80" cy="41.60" r="5.10" fill="url(#gk)"/>
<circle cx="338.40" cy="198.81" r="5.10" fill="url(#gr)"/>
<circle cx="348.40" cy="184.52" r="5.10" fill="url(#gr)"/>
<circle cx="355.70" cy="170.22" r="5.10" fill="url(#gr)"/>
<circle cx="365.20" cy="155.93" r="5.10" fill="url(#gr)"/>
<circle cx="365.00" cy="141.64" r="5.10" fill="url(#gr)"/>
<circle cx="368.20" cy="127.35" r="5.10" fill="url(#gr)"/>
<circle cx="370.00" cy="113.06" r="5.10" fill="url(#gr)"/>
<circle cx="370.60" cy="98.77" r="5.10" fill="url(#gr)"/>
<circle cx="372.10" cy="84.47" r="5.10" fill="url(#gr)"/>
<circle cx="376.20" cy="70.18" r="5.10" fill="url(#gr)"/>
<circle cx="377.50" cy="55.89" r="5.10" fill="url(#gr)"/>
<circle cx="385.80" cy="41.60" r="5.10" fill="url(#gr)"/>
</g>
<circle cx="61.40" cy="49.00" r="4.80" fill="url(#gk)"/>
<circle cx="61.20" cy="74.80" r="4.80" fill="url(#gr)"/>
<rect x="140.4" y="200.2" width="106.6" height="22.8" fill="#fff" stroke="#8a8a8a" stroke-width="1"/>
<circle cx="292.00" cy="41.50" r="5.10" fill="url(#gr)"/>
<circle cx="292.00" cy="67.00" r="5.10" fill="url(#gk)"/>
<rect x="326.5" y="201.1" width="111.5" height="29" fill="#fff" stroke="#8a8a8a" stroke-width="1"/>
<text transform="translate(19.2,224.24) rotate(-90) scale(1.074,1)" font-size="14.90" font-weight="bold">Cumulative Probability</text>
<rect x="52.0" y="26.2" width="208.4" height="204.4" fill="none" stroke="#000" stroke-width="2"/>
<rect x="275.4" y="24.7" width="218.3" height="204.9" fill="none" stroke="#000" stroke-width="2"/>
<rect x="75.60" y="38.63" width="59.50" height="14.75" fill="#fff"/>
<rect x="75.20" y="64.34" width="50.70" height="14.75" fill="#fff"/>
<rect x="218" y="39" width="49" height="14" fill="#fff"/>
<rect x="182.20" y="177.94" width="63.50" height="14.75" fill="#fff"/>
<rect x="303.10" y="32.04" width="28.60" height="14.75" fill="#fff"/>
<rect x="335.90" y="32.04" width="26.10" height="14.75" fill="#fff"/>
<rect x="305.50" y="57.74" width="27.50" height="14.75" fill="#fff"/>
<rect x="336.30" y="57.74" width="26.20" height="14.75" fill="#fff"/>
<text transform="translate(76.45,51.30) scale(1.059,1)" font-size="14.90" font-weight="bold">w/o TaS</text>
<text transform="translate(135.27,58.60) scale(0.949,1)" font-size="10.30" font-weight="bold">2</text>
<text transform="translate(76.05,77.00) scale(1.078,1)" font-size="14.90" font-weight="bold">w/ TaS</text>
<text transform="translate(125.26,83.70) scale(0.970,1)" font-size="10.30" font-weight="bold">2</text>
<text transform="translate(219.91,50.60) scale(0.978,1)" font-size="12.30" font-weight="bold" fill="#dd1f2f" style="color:#dd1f2f">&gt; 5000 s</text>
<text transform="translate(182.53,190.60) scale(1.048,1)" font-size="14.90" font-weight="bold">8 MV/cm</text>
<text transform="translate(147.87,217.50) scale(1.043,1)" font-size="14.90" font-weight="bold">Co Diffusion</text>
<text transform="translate(303.74,44.70) scale(1.059,1)" font-size="14.90" font-weight="bold">TaS</text>
<text transform="translate(331.27,51.80) scale(0.949,1)" font-size="10.30" font-weight="bold">2</text>
<text transform="translate(336.54,44.70) scale(1.054,1)" font-size="14.90" font-weight="bold">/Co</text>
<text transform="translate(305.83,70.40) scale(1.053,1)" font-size="14.90" font-weight="bold">SiO</text>
<text transform="translate(332.18,77.00) scale(0.909,1)" font-size="10.30" font-weight="bold">2</text>
<text transform="translate(336.94,70.40) scale(1.058,1)" font-size="14.90" font-weight="bold">/Co</text>
<text transform="translate(334.25,218.50) scale(1.016,1)" font-size="14.90" font-weight="bold">TaS</text>
<text transform="translate(361.25,224.60) scale(1.010,1)" font-size="10.30" font-weight="bold">2</text>
<text transform="translate(370.83,218.50) scale(1.036,1)" font-size="14.90" font-weight="bold">as Liner</text>
<text transform="translate(25.90,217.80) scale(1.047,1)" font-size="14.90" font-weight="bold">0.0</text>
<text transform="translate(497.97,217.30) scale(1.057,1)" font-size="14.90" font-weight="bold">0.0</text>
<text transform="translate(25.90,183.70) scale(1.047,1)" font-size="14.90" font-weight="bold">0.2</text>
<text transform="translate(497.97,183.00) scale(1.057,1)" font-size="14.90" font-weight="bold">0.2</text>
<text transform="translate(25.38,149.60) scale(1.047,1)" font-size="14.90" font-weight="bold">0.4</text>
<text transform="translate(497.97,148.70) scale(1.057,1)" font-size="14.90" font-weight="bold">0.4</text>
<text transform="translate(25.85,115.50) scale(1.047,1)" font-size="14.90" font-weight="bold">0.6</text>
<text transform="translate(497.97,114.40) scale(1.057,1)" font-size="14.90" font-weight="bold">0.6</text>
<text transform="translate(25.75,81.40) scale(1.047,1)" font-size="14.90" font-weight="bold">0.8</text>
<text transform="translate(497.97,80.10) scale(1.057,1)" font-size="14.90" font-weight="bold">0.8</text>
<text transform="translate(25.90,47.30) scale(1.047,1)" font-size="14.90" font-weight="bold">1.0</text>
<text transform="translate(497.60,45.80) scale(1.057,1)" font-size="14.90" font-weight="bold">1.0</text>
<text transform="translate(74.41,250.00) scale(1.020,1)" font-size="14.60" font-weight="bold">10</text>
<text transform="translate(91.17,241.60) scale(1.000,1)" font-size="8.50" font-weight="bold">1</text>
<text transform="translate(121.94,250.00) scale(1.020,1)" font-size="14.60" font-weight="bold">10</text>
<text transform="translate(138.95,241.60) scale(1.000,1)" font-size="8.50" font-weight="bold">2</text>
<text transform="translate(169.48,250.00) scale(1.020,1)" font-size="14.60" font-weight="bold">10</text>
<text transform="translate(186.60,241.60) scale(1.000,1)" font-size="8.50" font-weight="bold">3</text>
<text transform="translate(216.91,250.00) scale(1.020,1)" font-size="14.60" font-weight="bold">10</text>
<text transform="translate(234.07,241.60) scale(1.000,1)" font-size="8.50" font-weight="bold">4</text>
<text transform="translate(266.38,246.20) scale(1.057,1)" font-size="14.90" font-weight="bold">38</text>
<text transform="translate(297.69,246.20) scale(1.057,1)" font-size="14.90" font-weight="bold">40</text>
<text transform="translate(328.88,246.20) scale(1.057,1)" font-size="14.90" font-weight="bold">42</text>
<text transform="translate(359.80,246.20) scale(1.057,1)" font-size="14.90" font-weight="bold">44</text>
<text transform="translate(391.23,246.20) scale(1.057,1)" font-size="14.90" font-weight="bold">46</text>
<text transform="translate(422.36,246.20) scale(1.057,1)" font-size="14.90" font-weight="bold">48</text>
<text transform="translate(453.52,246.20) scale(1.057,1)" font-size="14.90" font-weight="bold">50</text>
<text transform="translate(484.70,246.20) scale(1.057,1)" font-size="14.90" font-weight="bold">52</text>
<text transform="translate(51.04,263.70) scale(1.034,1)" font-size="14.90" font-weight="bold">Time-to-Breakdown, t</text>
<text transform="translate(208.60,269.80) scale(0.929,1)" font-size="10.00" font-weight="bold">BD</text>
<text transform="translate(226.10,263.70) scale(1.065,1)" font-size="14.90" font-weight="bold">(sec)</text>
<text transform="translate(302.29,261.80) scale(1.025,1)" font-size="14.90" font-weight="bold">Co Resistivity (μΩ-cm)</text>
<text transform="translate(2.85,15.40) scale(1.000,1)" font-size="16.80" font-weight="bold">(</text>
<text transform="translate(8.42,15.00) scale(0.954,1)" font-size="14.30" font-weight="bold">a</text>
<text transform="translate(17.25,15.40) scale(1.000,1)" font-size="16.80" font-weight="bold">)</text>
<text transform="translate(270.12,14.80) scale(0.974,1)" font-size="16.50" font-weight="bold">(b)</text>
</svg>
</body></html>
